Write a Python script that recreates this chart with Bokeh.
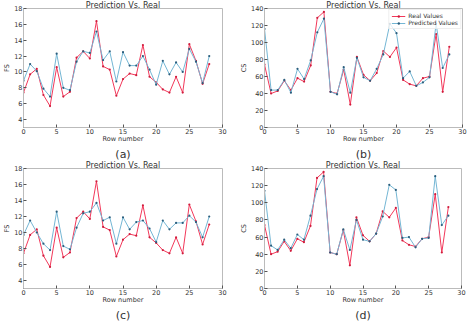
from bokeh.plotting import figure
from bokeh.layouts import column, row
from bokeh.models import Title, Legend, LegendItem, FixedTicker, Range1d
from bokeh.embed import file_html
from bokeh.resources import INLINE

rows = list(range(29))
fs_real = [7.4, 9.7, 10.4, 7.1, 5.7, 10.6, 6.9, 7.5, 11.8, 12.6, 11.7, 16.4, 10.7, 10.3, 7.0,
           9.1, 9.8, 9.6, 13.4, 9.4, 8.7, 7.8, 7.4, 9.4, 7.4, 13.5, 11.4, 8.5, 11.0]
fs_pred_a = [8.9, 11.0, 10.1, 7.9, 6.9, 12.3, 8.0, 7.7, 11.3, 12.6, 12.4, 15.1, 11.5, 12.6, 8.8,
             12.5, 10.8, 10.8, 12.0, 10.3, 8.4, 11.4, 9.7, 11.2, 10.0, 12.9, 11.3, 8.6, 12.0]
fs_pred_c = [9.7, 11.5, 10.0, 8.6, 7.8, 12.6, 8.3, 7.9, 10.6, 12.4, 12.6, 13.7, 11.5, 11.9, 8.6,
             11.9, 10.4, 11.3, 11.5, 10.5, 8.8, 11.5, 10.4, 11.2, 11.2, 12.1, 11.3, 9.4, 12.0]
cs_real = [74, 40, 43, 55, 44, 58, 54, 73, 129, 136, 42, 40, 68, 27, 83,
           62, 55, 64, 90, 83, 94, 56, 51, 49, 58, 60, 110, 42, 95]
cs_pred_b = [116, 44, 44, 56, 41, 69, 57, 79, 112, 128, 42, 39, 71, 41, 82,
             59, 55, 69, 86, 122, 111, 58, 66, 49, 53, 59, 122, 70, 86]
cs_pred_d = [114, 50, 45, 57, 47, 63, 57, 85, 116, 131, 42, 40, 69, 45, 80,
             57, 55, 64, 84, 121, 115, 59, 60, 48, 58, 59, 131, 74, 85]
x_ticks = [0, 5, 10, 15, 20, 25, 30]
fs_ticks = [4, 6, 8, 10, 12, 14, 16, 18]
cs_ticks = [0, 20, 40, 60, 80, 100, 120, 140]

RED = "#f2385a"
RED_M = "#d01c3c"
BLUE = "#74b6d4"
BLUE_M = "#2a5d7c"
FONT = "DejaVu Sans"
TXT = "#333333"


def make(real, pred, ylabel, yr, yticks, caption, h, bl, br, legend=False):
    p = figure(width=237, height=h, output_backend="svg", toolbar_location=None,
               x_range=Range1d(0, 30), y_range=Range1d(*yr),
               min_border_left=bl, min_border_right=br, min_border_top=0, min_border_bottom=0)
    p.title.text = "Prediction Vs. Real"
    p.title.align = "center"
    p.title.text_font = FONT
    p.title.text_font_size = "8px"
    p.title.text_font_style = "normal"
    p.title.text_color = TXT
    p.title.standoff = -3
    p.title.offset = 0
    p.add_layout(Title(text=caption, align="center", text_font=FONT, text_font_size="11px",
                       text_font_style="normal", text_color=TXT, standoff=0, offset=0), "below")
    p.grid.visible = False
    p.outline_line_color = "#bbbbbb"
    for ax in (p.xaxis[0], p.yaxis[0]):
        ax.major_label_text_font_size = "6.5px"
        ax.major_label_text_font = FONT
        ax.major_label_text_color = TXT
        ax.axis_label_text_font_size = "6.5px"
        ax.axis_label_text_font = FONT
        ax.axis_label_text_font_style = "normal"
        ax.axis_label_text_color = TXT
        ax.major_tick_in = 3
        ax.major_tick_out = 0
        ax.minor_tick_line_color = None
        ax.axis_line_color = "#bbbbbb"
        ax.major_tick_line_color = "#555555"
        ax.major_label_standoff = 1
        ax.axis_label_standoff = 0
    p.xaxis.major_label_standoff = 1
    p.xaxis.axis_label_standoff = -2
    p.xaxis.ticker = FixedTicker(ticks=x_ticks)
    p.yaxis.ticker = FixedTicker(ticks=yticks)
    p.xaxis.axis_label = "Row number"
    p.yaxis.axis_label = ylabel
    r1 = p.line(rows, real, line_color=RED, line_width=1)
    m1 = p.scatter(rows, real, size=2.2, fill_color=RED_M, line_color=None)
    r2 = p.line(rows, pred, line_color=BLUE, line_width=1)
    m2 = p.scatter(rows, pred, size=2.2, fill_color=BLUE_M, line_color=None)
    if legend:
        lg = Legend(items=[LegendItem(label="Real Values", renderers=[r1, m1]),
                           LegendItem(label="Predicted Values", renderers=[r2, m2])],
                    location="top_right", label_text_font_size="6px", label_text_font=FONT,
                    label_text_color=TXT,
                    label_height=6, glyph_height=6, glyph_width=14, spacing=0, padding=2,
                    margin=1, label_standoff=3, border_line_color="#dddddd",
                    background_fill_alpha=0.8)
        p.add_layout(lg, "center")
    return p


pa = make(fs_real, fs_pred_a, "FS", (3, 18), fs_ticks, "(a)", 160, 16, 15)
pb = make(cs_real, cs_pred_b, "CS", (0, 140), cs_ticks, "(b)", 160, 19, 12, legend=True)
pc = make(fs_real, fs_pred_c, "FS", (3, 18), fs_ticks, "(c)", 161, 16, 15)
pd = make(cs_real, cs_pred_d, "CS", (0, 140), cs_ticks, "(d)", 161, 17, 13)

layout = column(row(pa, pb, spacing=0), row(pc, pd, spacing=0), spacing=0)
open("out.html", "w").write(file_html(layout, INLINE))
